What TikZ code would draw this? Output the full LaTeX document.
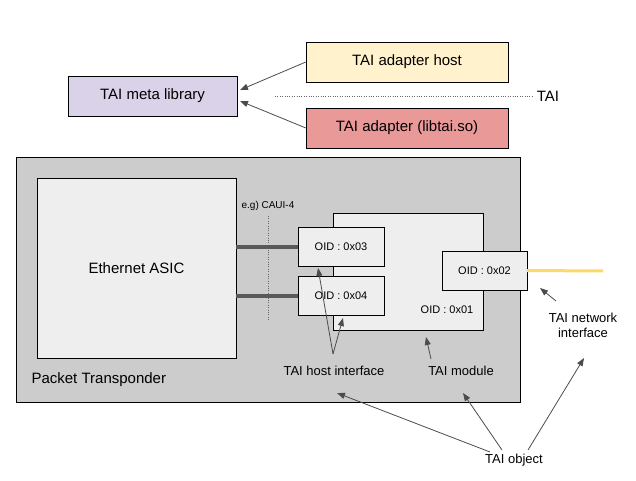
\documentclass[tikz,border=0pt]{standalone}
\usepackage{fontspec}
\setmainfont{Liberation Sans}
\usetikzlibrary{arrows.meta}
\definecolor{metafill}{HTML}{D9D2E9}
\definecolor{hostfill}{HTML}{FFF2CC}
\definecolor{adapterfill}{HTML}{EA9999}
\definecolor{boxgray}{HTML}{CCCCCC}
\definecolor{lightbox}{HTML}{EEEEEE}
\definecolor{linkgray}{HTML}{595959}
\definecolor{fiber}{HTML}{FFD966}
\tikzset{
	block/.style  = {draw, rectangle, inner sep=0pt, font=\fontsize{15}{17}\selectfont},
	oid/.style    = {draw, fill=lightbox, rectangle, inner sep=0pt, minimum width=86pt, minimum height=39pt, font=\fontsize{11}{13}\selectfont},
	label/.style  = {font=\fontsize{13}{15}\selectfont, align=center},
	pointer/.style = {->, >={Triangle[length=8pt,width=6pt]}, draw=black!70, line width=0.8pt},
}
\begin{document}
\begin{tikzpicture}[x=1pt, y=-1pt]
		\useasboundingbox (0,0) rectangle (636,481);
		% Draw the library nodes
		\node[block, fill=metafill, minimum width=169pt, minimum height=40pt] (meta) at (152.5,96) {TAI meta library};
		\node[block, fill=hostfill, minimum width=202pt, minimum height=40pt] (host) at (407,62) {TAI adapter host};
		\node[block, fill=adapterfill, minimum width=202pt, minimum height=40pt] (adapter) at (407,128) {TAI adapter (libtai.so)};
		\node[label, font=\fontsize{15}{17}\selectfont] (tai) at (548,96) {TAI};
		\coordinate (dotstart) at (275,96);
		\draw[dotted, draw=black!60] (dotstart) -- (tai.west);
		\draw[pointer] (host.west) -- (240,90);
		\draw[pointer] (adapter.west) -- (240,101);

		% Draw the transponder nodes
		\node[block, fill=boxgray, minimum width=504pt, minimum height=245pt] (transponder) at (268,279.5) {};
		\node[label, font=\fontsize{15}{17}\selectfont, anchor=west] (transpondertext) at (28,380) {Packet Transponder};
		\node[block, fill=lightbox, minimum width=199pt, minimum height=180pt] (asic) at (136.5,268) {Ethernet ASIC};
		\node[block, fill=lightbox, minimum width=150pt, minimum height=117pt] (module) at (408,271.5) {};
		\node[font=\fontsize{11}{13}\selectfont] (oid1) at (447,310) {OID : 0x01};
		\node[oid] (oid3) at (341,246.5) {OID : 0x03};
		\node[oid] (oid4) at (341,295.5) {OID : 0x04};
		\node[oid, minimum width=85pt] (oid2) at (484.5,270.5) {OID : 0x02};
		\node[font=\fontsize{10}{12}\selectfont] (caui) at (268,206) {e.g) CAUI-4};
		\coordinate (cauitop) at (268,216);
		\coordinate (cauibottom) at (268,321);
		\coordinate (fiberend) at (603,271);

		% Connect everything together
		\draw[dotted, draw=black!60] (cauitop) -- (cauibottom);
		\draw[line width=4pt, draw=linkgray] (asic.east |- oid3) -- (oid3.west);
		\draw[line width=4pt, draw=linkgray] (asic.east |- oid4) -- (oid4.west);
		\draw[line width=3pt, draw=fiber] (oid2.east) -- (fiberend);

		% Labels and pointers
		\node[label] (hostif) at (334,371) {TAI host interface};
		\node[label] (modulelabel) at (461,371) {TAI module};
		\node[label] (netif) at (583,325) {TAI network\\interface};
		\node[label] (object) at (514,460) {TAI object};
		\draw[pointer] (333,354) -- (318,268);
		\draw[pointer] (333,354) -- (343,318);
		\draw[pointer] (431,359) -- (426,337);
		\draw[pointer] (556,301) -- (540,288);
		\draw[pointer] (490,452) -- (337,393);
		\draw[pointer] (502,450) -- (463,393);
		\draw[pointer] (528,450) -- (584,358);
	\end{tikzpicture}
\end{document}
